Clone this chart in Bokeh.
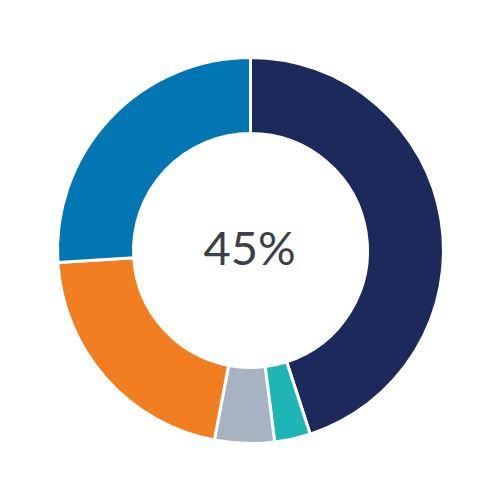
from bokeh.plotting import figure
from bokeh.models import ColumnDataSource, Range1d
from bokeh.core.properties import value
from bokeh.embed import file_html
from bokeh.resources import INLINE

import numpy as np

# slices, clockwise from 12 o'clock
labels = ["Navy", "Teal", "Gray", "Orange", "Blue"]
shares = [45, 3, 5, 21, 26]
colors = ["#1b2a5a", "#1db5b6", "#a7b3c3", "#f17e20", "#0176b3"]
center_label = "45%"

frac = np.array(shares) / sum(shares)
ends = np.cumsum(frac) * 2 * np.pi
starts = ends - frac * 2 * np.pi

source = ColumnDataSource(data={
    'label': labels,
    'start': np.pi / 2 - starts,
    'end': np.pi / 2 - ends,
    'color': colors,
})

p = figure(width=484, height=484, output_backend="svg", toolbar_location=None,
           x_range=Range1d(-250, 234), y_range=Range1d(-234, 250),
           min_border=0)
p.axis.visible = False
p.grid.visible = False
p.outline_line_color = None

p.annular_wedge(x=0, y=0, inner_radius=117, outer_radius=193,
                start_angle='start', end_angle='end', direction="clock",
                fill_color='color', line_color="white", line_width=3,
                source=source)

p.text(x=[-1], y=[4], text=[center_label], text_align="center",
       text_baseline="middle", text_font=value("Lato"),
       text_font_size="47px", text_color="#3b4048")

open("out.html", "w").write(file_html(p, INLINE))
